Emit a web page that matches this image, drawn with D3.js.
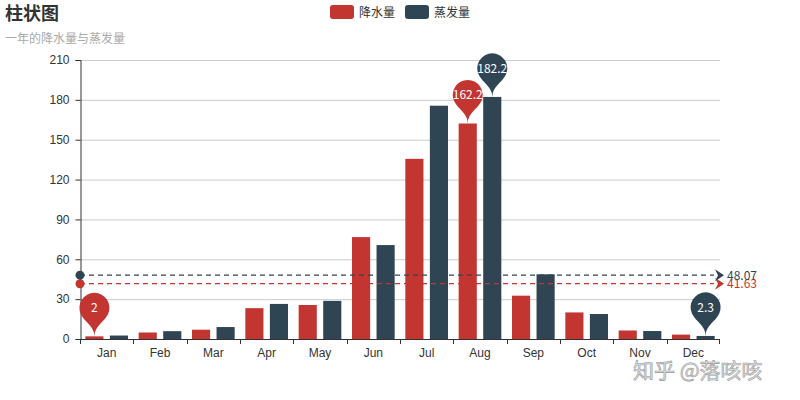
<!DOCTYPE html>
<html><head><meta charset="utf-8">
<script src="https://cdn.jsdelivr.net/npm/d3@7/dist/d3.min.js"></script>
<style>body{margin:0;background:#fff}svg{font-family:"Noto Sans CJK SC","Noto Sans",sans-serif}</style>
</head><body><svg id="c" width="800" height="400"></svg>
<script>
const months = ["Jan","Feb","Mar","Apr","May","Jun","Jul","Aug","Sep","Oct","Nov","Dec"];
const rainfall = [2.0, 4.9, 7.0, 23.2, 25.6, 76.7, 135.6, 162.2, 32.6, 20.0, 6.4, 3.3];
const evaporation = [2.6, 5.9, 9.0, 26.4, 28.7, 70.7, 175.6, 182.2, 48.7, 18.8, 6.0, 2.3];
const seriesNames = ["降水量","蒸发量"];
const yTicks = [0,30,60,90,120,150,180,210];
const colors = ["#c23531","#2f4554"];

const svg = d3.select("#c");
const L=80,R=720,T=60,B=339;
const x = d3.scaleBand().domain(months).range([L,R]).paddingInner(0.2).paddingOuter(0.1);
const xb = d3.scaleBand().domain(months).range([L,R]);
const y = d3.scaleLinear().domain([0,210]).range([B,T]);
const inner = d3.scaleBand().domain([0,1]).range([0,x.bandwidth()]).paddingInner(0.3/2.3*2);

// grid
svg.append("g").selectAll("line").data(yTicks.slice(1)).join("line")
  .attr("x1",L).attr("x2",R).attr("y1",d=>y(d)+0.5).attr("y2",d=>y(d)+0.5)
  .attr("stroke","#ccc").attr("stroke-width",1);

// y axis
const ya = svg.append("g").attr("transform",`translate(${L+0.5},0)`)
  .call(d3.axisLeft(y).tickValues(yTicks).tickSize(5).tickPadding(6));
ya.select(".domain").attr("stroke","#333");
ya.selectAll(".tick line").attr("stroke","#333");
ya.selectAll("text").attr("fill","#333").style("font-size","12px");

// x axis
const xa = svg.append("g").attr("transform",`translate(0,${B+0.5})`)
  .call(d3.axisBottom(xb).tickSize(0).tickPadding(9));
xa.select(".domain").attr("stroke","#333").attr("d",`M${L},0H${R}`);
xa.selectAll("text").attr("fill","#333").style("font-size","12px");
svg.append("g").selectAll("line").data(months).join("line")
  .attr("x1",d=>Math.round(xb(d))+0.5).attr("x2",d=>Math.round(xb(d))+0.5)
  .attr("y1",B).attr("y2",B+5).attr("stroke","#333");
svg.append("line").attr("x1",R-0.5).attr("x2",R-0.5).attr("y1",B).attr("y2",B+5).attr("stroke","#333");

// bars
[rainfall,evaporation].forEach((vals,si)=>{
  svg.append("g").selectAll("rect").data(vals).join("rect")
    .attr("x",(d,i)=>x(months[i])+inner(si))
    .attr("width",inner.bandwidth())
    .attr("y",d=>y(d)).attr("height",d=>B-y(d))
    .attr("fill",colors[si]);
});

// mark lines (average)
[rainfall,evaporation].forEach((vals,si)=>{
  const avg = d3.mean(vals);
  const yy = y(avg);
  const g = svg.append("g");
  g.append("line").attr("x1",L).attr("x2",R-6).attr("y1",yy).attr("y2",yy)
    .attr("stroke",colors[si]).attr("stroke-dasharray","5,4").attr("stroke-width",1.2);
  g.append("circle").attr("cx",L).attr("cy",yy).attr("r",4.5).attr("fill",colors[si]);
  g.append("path").attr("d",`M${R-5},${yy-6}L${R+4},${yy}L${R-5},${yy+6}L${R-2},${yy}Z`).attr("fill",colors[si]);
  g.append("text").attr("x",R+7).attr("y",yy+4.5).attr("fill",colors[si])
    .style("font-size","12px").text(avg.toFixed(2));
});

// pins
function pinPath(px,py){
  const w=30,h=50,r=w/2;
  const dy=r*r/(h-r), cy=py-h+r+dy, ang=Math.asin(dy/r);
  const dx=Math.cos(ang)*r, tx=Math.sin(ang), ty=Math.cos(ang);
  const c1=r*0.6,c2=r*0.7;
  const p=d3.path();
  p.moveTo(px-dx,cy+dy);
  p.arc(px,cy,r,Math.PI-ang,Math.PI*2+ang);
  p.bezierCurveTo(px+dx-tx*c1,cy+dy+ty*c1,px,py-c2,px,py);
  p.bezierCurveTo(px,py-c2,px-dx+tx*c1,cy+dy+ty*c1,px-dx,cy+dy);
  p.closePath();
  return {d:p.toString(),cy};
}
[rainfall,evaporation].forEach((vals,si)=>{
  const mx=d3.max(vals), mn=d3.min(vals);
  [vals.indexOf(mx),vals.indexOf(mn)].forEach(i=>{
    const px=x(months[i])+inner(si)+inner.bandwidth()/2;
    const py=y(vals[i]);
    const pp=pinPath(px,py);
    svg.append("path").attr("d",pp.d).attr("fill",colors[si]);
    svg.append("text").attr("x",px).attr("y",pp.cy+4.5).attr("text-anchor","middle")
      .attr("fill","#fff").style("font-size","12px").text(String(vals[i]));
  });
});

// title
svg.append("text").attr("x",5).attr("y",20).attr("fill","#333")
  .style("font-size","18px").style("font-weight","bold").text("柱状图");
svg.append("text").attr("x",5).attr("y",43).attr("fill","#aaa")
  .style("font-size","12px").text("一年的降水量与蒸发量");

// legend
const lx=[330,405];
seriesNames.forEach((n,i)=>{
  svg.append("rect").attr("x",lx[i]).attr("y",5).attr("width",24).attr("height",14).attr("rx",3).attr("fill",colors[i]);
  svg.append("text").attr("x",lx[i]+29).attr("y",16.5).attr("fill","#333").style("font-size","12px").text(n);
});

// watermark
svg.append("text").attr("x",633).attr("y",378).attr("fill","#e0e0e0")
  .attr("stroke","#999").attr("stroke-width",0.6)
  .style("font-size","21px").text("知乎 @落咳咳");
</script></body></html>
